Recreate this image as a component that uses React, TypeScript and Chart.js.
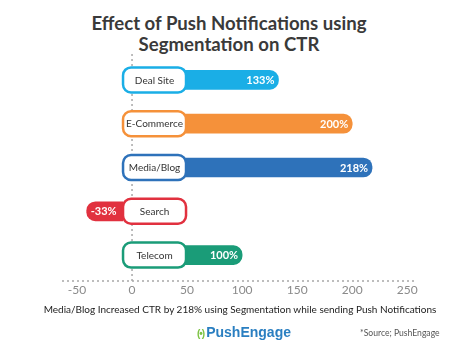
import React, { useEffect, useRef } from "react";
import { Chart, registerables } from "chart.js";

Chart.register(...registerables);

const categories = ["Deal Site", "E-Commerce", "Media/Blog", "Search", "Telecom"];
const ctrValues = [133, 200, 218, -33, 100];
const valueLabels = ["133%", "200%", "218%", "-33%", "100%"];
const xTicks = [-50, 0, 50, 100, 150, 200, 250];
const barColors = ["#1AAEE6", "#F5913A", "#2E72BA", "#E1313F", "#1A9C78"];

const FONT = "Lato, 'Open Sans', sans-serif";
const BOX_OFFSET = 9;

function roundRect(ctx: CanvasRenderingContext2D, x: number, y: number, w: number, h: number, r: number) {
  ctx.beginPath();
  ctx.moveTo(x + r, y);
  ctx.lineTo(x + w - r, y);
  ctx.arcTo(x + w, y, x + w, y + r, r);
  ctx.lineTo(x + w, y + h - r);
  ctx.arcTo(x + w, y + h, x + w - r, y + h, r);
  ctx.lineTo(x + r, y + h);
  ctx.arcTo(x, y + h, x, y + h - r, r);
  ctx.lineTo(x, y + r);
  ctx.arcTo(x, y, x + r, y, r);
  ctx.closePath();
}

const decorPlugin = {
  id: "decor",
  beforeDatasetsDraw(chart: any) {
    const { ctx, chartArea } = chart;
    const xs = chart.scales.x;
    const zero = xs.getPixelForValue(0);
    const axisY = chartArea.bottom + 4;
    ctx.save();
    ctx.strokeStyle = "#A8A8A8";
    ctx.lineWidth = 1.5;
    ctx.setLineDash([2, 3]);
    ctx.beginPath();
    ctx.moveTo(zero, chartArea.top - 4);
    ctx.lineTo(zero, axisY);
    ctx.stroke();
    ctx.beginPath();
    ctx.moveTo(chartArea.left, axisY);
    ctx.lineTo(chartArea.right, axisY);
    ctx.stroke();
    ctx.restore();
    // negative bars grow out of the left edge of the category box
    const meta = chart.getDatasetMeta(0);
    meta.data.forEach((bar: any, i: number) => {
      if (ctrValues[i] < 0) {
        bar.x -= BOX_OFFSET;
        bar.base -= BOX_OFFSET;
      }
    });
  },
  afterDatasetsDraw(chart: any) {
    const { ctx } = chart;
    const xs = chart.scales.x;
    const zero = xs.getPixelForValue(0);
    const meta = chart.getDatasetMeta(0);
    ctx.save();
    meta.data.forEach((bar: any, i: number) => {
      const color = barColors[i];
      const val = ctrValues[i];
      ctx.fillStyle = "#ffffff";
      ctx.font = `bold 11px ${FONT}`;
      ctx.textBaseline = "middle";
      if (val >= 0) {
        ctx.textAlign = "right";
        ctx.fillText(valueLabels[i], bar.x - 4, bar.y + 0.5);
      } else {
        ctx.textAlign = "left";
        ctx.fillText(valueLabels[i], bar.x + 4, bar.y + 0.5);
      }
      const bw = 63;
      const bh = 25;
      const bx = zero - BOX_OFFSET;
      const by = bar.y - bh / 2;
      roundRect(ctx, bx, by, bw, bh, 8);
      ctx.fillStyle = "#ffffff";
      ctx.fill();
      ctx.lineWidth = 2.5;
      ctx.strokeStyle = color;
      ctx.stroke();
      ctx.fillStyle = "#333333";
      ctx.font = `10px ${FONT}`;
      ctx.textAlign = "center";
      ctx.fillText(categories[i], bx + bw / 2, bar.y + 0.5);
    });
    ctx.restore();
    meta.data.forEach((bar: any, i: number) => {
      if (ctrValues[i] < 0) {
        bar.x += BOX_OFFSET;
        bar.base += BOX_OFFSET;
      }
    });
  },
};

export default function App() {
  const ref = useRef<HTMLCanvasElement>(null);
  useEffect(() => {
    if (!ref.current) return;
    const chart = new Chart(ref.current, {
      type: "bar",
      data: {
        labels: categories,
        datasets: [
          {
            data: ctrValues,
            backgroundColor: barColors,
            barThickness: 19,
            borderRadius: 9,
            borderSkipped: "start",
          },
        ],
      },
      options: {
        indexAxis: "y",
        responsive: false,
        animation: false,
        layout: { padding: { top: 58, left: 62, right: 59, bottom: 48 } },
        plugins: { legend: { display: false }, tooltip: { enabled: false }, title: { display: false } },
        scales: {
          y: { display: false },
          x: {
            min: -63.6,
            max: 257,
            grid: { display: false },
            border: { display: false },
            afterBuildTicks: (axis: any) => {
              axis.ticks = xTicks.map((v) => ({ value: v }));
            },
            afterFit: (scale: any) => {
              scale.height = 30;
            },
            ticks: {
              padding: -2,
              color: "#8A8A8A",
              font: { family: FONT, size: 12 },
              maxRotation: 0,
              autoSkip: false,
            },
          },
        },
      },
      plugins: [decorPlugin],
    });
    return () => chart.destroy();
  }, []);

  return (
    <div style={{ position: "absolute", left: 0, top: 0, width: 474, height: 355, background: "#fff", overflow: "hidden" }}>
      <div
        style={{
          position: "absolute",
          left: 0,
          top: 13,
          width: 458,
          textAlign: "center",
          fontFamily: FONT,
          fontWeight: 700,
          fontSize: 18.6,
          lineHeight: "21px",
          color: "#3A3A3A",
        }}
      >
        Effect of Push Notifications using
        <br />
        Segmentation on CTR
      </div>
      <canvas ref={ref} width={474} height={355} style={{ position: "absolute", left: 0, top: 0 }} />
      <div
        style={{
          position: "absolute",
          left: 0,
          top: 303,
          width: 480,
          textAlign: "center",
          fontFamily: FONT,
          fontSize: 10,
          color: "#222",
          whiteSpace: "nowrap",
        }}
      >
        Media/Blog Increased CTR by 218% using Segmentation while sending Push Notifications
      </div>
      <div
        style={{
          position: "absolute",
          left: 197,
          top: 324,
          fontFamily: "'Liberation Sans', Arial, sans-serif",
          fontWeight: 700,
          fontSize: 14,
          color: "#2A7FC1",
          whiteSpace: "nowrap",
        }}
      >
        <span style={{ color: "#7CC242", fontSize: 10, marginRight: 2, letterSpacing: -1 }}>(•)</span>
        PushEngage
      </div>
      <div
        style={{
          position: "absolute",
          left: 360,
          top: 328,
          fontFamily: FONT,
          fontSize: 8.6,
          color: "#555",
          whiteSpace: "nowrap",
        }}
      >
        *Source; PushEngage
      </div>
    </div>
  );
}
